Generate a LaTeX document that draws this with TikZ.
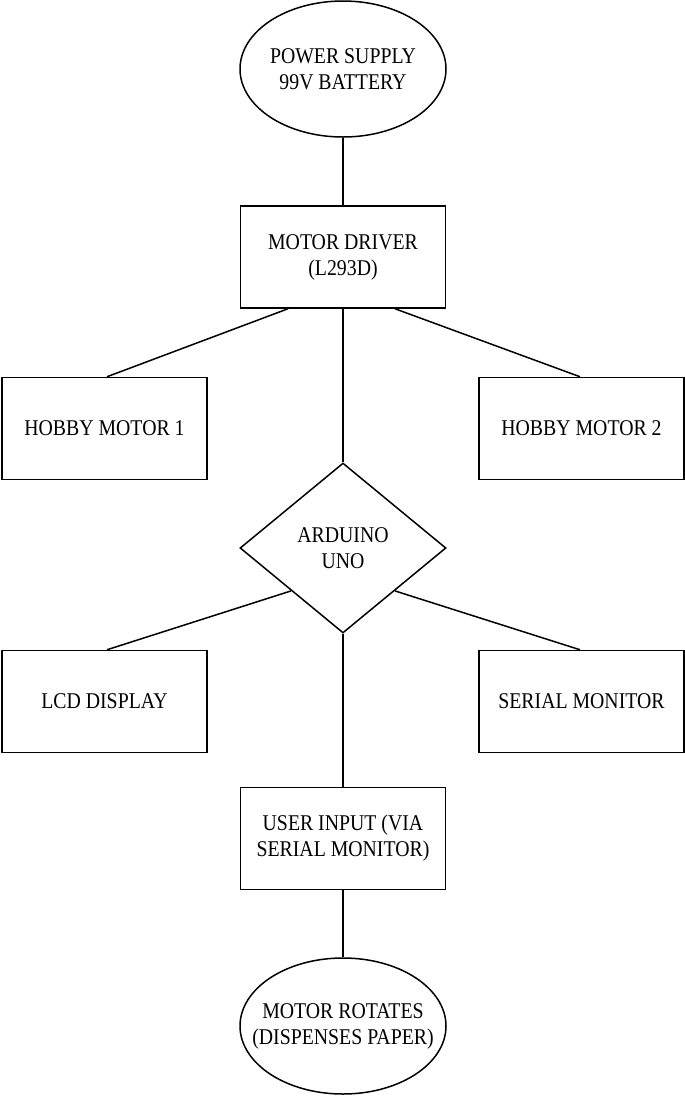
\documentclass[tikz,border=0pt]{standalone}
\usepackage{fontspec}
\setmainfont{Liberation Serif}[FakeStretch=0.88]
\usetikzlibrary{shapes.geometric,calc}
\tikzset{
  lbl/.style={align=center,font=\fontsize{22.5}{26}\selectfont,inner sep=0pt,line width=1.5pt,draw=black},
  boxnode/.style={lbl,rectangle,minimum width=205pt,minimum height=102pt},
  ovalnode/.style={lbl,ellipse,inner xsep=-30pt,minimum width=206pt,minimum height=136pt},
  diamnode/.style={lbl,diamond,minimum width=206pt,minimum height=170pt},
  link/.style={line width=1.5pt,draw=black}
}
\begin{document}
\begin{tikzpicture}[x=1pt,y=-1pt]
\useasboundingbox (0,0) rectangle (685,1096);
\node[ovalnode] (ps) at (343,69) {POWER SUPPLY\\99V BATTERY};
\node[boxnode] (md) at (343,257) {MOTOR DRIVER\\(L293D)};
\node[boxnode] (h1) at (104.5,428.5) {HOBBY MOTOR 1};
\node[boxnode] (h2) at (581.5,428.5) {HOBBY MOTOR 2};
\node[diamnode] (ard) at (343,548) {ARDUINO\\UNO};
\node[boxnode] (lcd) at (104.5,701.5) {LCD DISPLAY};
\node[boxnode] (sm) at (581.5,701.5) {SERIAL MONITOR};
\node[boxnode] (ui) at (343,838.5) {USER INPUT (VIA\\SERIAL MONITOR)};
\node[ovalnode] (mr) at (343,1026) {MOTOR ROTATES\\(DISPENSES PAPER)};
\draw[link] (ps.south) -- (md.north);
\draw[link] ([xshift=-55pt]md.south) -- ([xshift=2.5pt]h1.north);
\draw[link] ([xshift=52pt]md.south) -- ([xshift=-1.5pt]h2.north);
\draw[link] (md.south) -- (ard.north);
\draw[link] ($(ard.west)!0.5!(ard.south)$) -- ([xshift=2.5pt]lcd.north);
\draw[link] ($(ard.east)!0.5!(ard.south)$) -- ([xshift=-1.5pt]sm.north);
\draw[link] (ard.south) -- (ui.north);
\draw[link] (ui.south) -- (mr.north);
\end{tikzpicture}
\end{document}
